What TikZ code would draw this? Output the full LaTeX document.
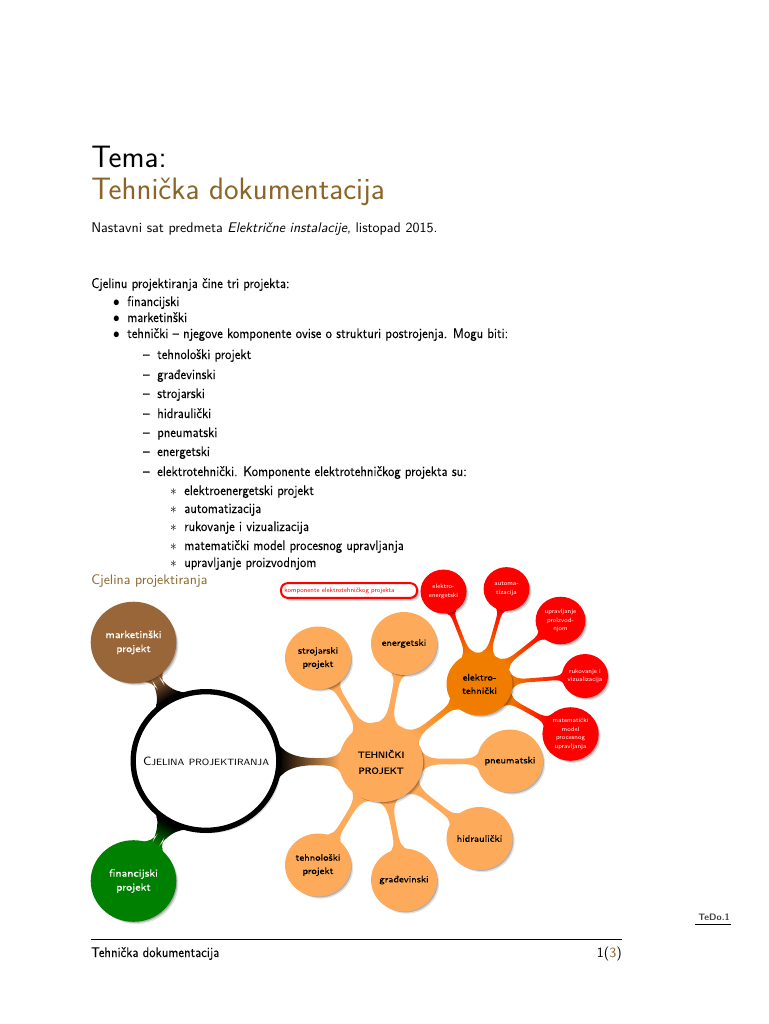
\documentclass[tikz,border=0pt]{standalone}
\usepackage{fontspec}
\usepackage{amssymb}
\usetikzlibrary{mindmap,shadows,backgrounds}
\newfontfamily\naslovni{lmsans17-regular}[Extension=.otf]
\newfontfamily\tijelo{Latin Modern Sans}[FakeBold=0.15]
\newfontfamily\gusta{Latin Modern Sans}[FakeBold=0.9]
\definecolor{smeda}{RGB}{139,100,40}
\definecolor{marketing}{RGB}{153,102,58}
\definecolor{financije}{RGB}{0,128,0}
\definecolor{narancasta}{RGB}{253,170,90}
\definecolor{tamnonar}{RGB}{240,125,0}
\definecolor{crvena}{RGB}{255,0,0}

\begin{document}
\begin{tikzpicture}[x=0.75pt,y=-0.75pt,
    tekst/.style={anchor=base west, inner sep=0pt, font=\sffamily\fontsize{9.5}{11}\selectfont},
    naslov/.style={anchor=base west, inner sep=0pt, font=\naslovni\fontsize{23.2}{28}\selectfont},
    uvuk/.style={anchor=base west, inner sep=0pt, font=\tijelo\fontsize{10.5}{12}\selectfont, xscale=.905, transform shape},
    sjena/.style={drop shadow={shadow xshift=2.2pt,shadow yshift=-2.2pt,opacity=.12,fill=black},
      drop shadow={shadow xshift=1.3pt,shadow yshift=-1.3pt,opacity=.22,fill=black}},
    pojam/.style={concept, sjena, align=center, inner sep=0pt},
    velik/.style={pojam, text=white, minimum size=60pt, text width=50pt, font=\tijelo\fontsize{8}{10.5}\selectfont},
    srednji/.style={pojam, concept color=narancasta, minimum size=46pt, text width=42pt, font=\tijelo\fontsize{7.2}{10}\selectfont},
    malen/.style={pojam, concept color=crvena, text=white, text width=30pt, font=\sffamily\fontsize{4.7}{6.4}\selectfont},
    veza/.style={line width=4.5pt},
    tanka/.style={line width=3pt}]
  \useasboundingbox (0,0) rectangle (768,1024);
  % Naslov
  \node[naslov] (tema) at (91,167) {Tema:};
  \node[naslov, text=smeda] (glavni) at (91,199) {Tehnička dokumentacija};
  \node[tekst, font=\sffamily\fontsize{10.5}{12}\selectfont] (sat) at (91,232) {Nastavni sat predmeta \textit{Električne instalacije}, listopad 2015.};
  % Popis
  \node[uvuk] (uvod) at (91,288) {Cjelinu projektiranja čine tri projekta:};
  \node[uvuk] (a1) at (113,306) {\makebox[11.6pt][l]{$\bullet$}financijski};
  \node[uvuk] (a2) at (113,322) {\makebox[11.6pt][l]{$\bullet$}marketinški};
  \node[uvuk] (a3) at (113,338) {\makebox[11.6pt][l]{$\bullet$}tehnički – njegove komponente ovise o strukturi postrojenja. Mogu biti:};
  \node[uvuk] (b1) at (143,359) {\makebox[11.6pt][l]{–}tehnološki projekt};
  \node[uvuk] (b2) at (143,379) {\makebox[11.6pt][l]{–}građevinski};
  \node[uvuk] (b3) at (143,398) {\makebox[11.6pt][l]{–}strojarski};
  \node[uvuk] (b4) at (143,418) {\makebox[11.6pt][l]{–}hidraulički};
  \node[uvuk] (b5) at (143,437) {\makebox[11.6pt][l]{–}pneumatski};
  \node[uvuk] (b6) at (143,456) {\makebox[11.6pt][l]{–}energetski};
  \node[uvuk] (b7) at (143,476) {\makebox[11.6pt][l]{–}elektrotehnički. Komponente elektrotehničkog projekta su:};
  \node[uvuk] (c1) at (170,495) {\makebox[11.6pt][l]{$\ast$}elektroenergetski projekt};
  \node[uvuk] (c2) at (170,513) {\makebox[11.6pt][l]{$\ast$}automatizacija};
  \node[uvuk] (c3) at (170,531) {\makebox[11.6pt][l]{$\ast$}rukovanje i vizualizacija};
  \node[uvuk] (c4) at (170,550) {\makebox[11.6pt][l]{$\ast$}matematički model procesnog upravljanja};
  \node[uvuk] (c5) at (170,567) {\makebox[11.6pt][l]{$\ast$}upravljanje proizvodnjom};
  \node[tekst, text=smeda, font=\sffamily\fontsize{10.4}{12}\selectfont] (cjelina) at (91,584) {Cjelina projektiranja};
  % Mentalna mapa
  \begin{scope}[mindmap, x=0.7143pt, xscale=1.05, transform shape]
    % Pojmovi
    \node[pojam, concept color=white, draw=black, line width=4pt, minimum size=104pt, text width=40pt, font=\sffamily] at (206,761) (cp)
      {\makebox[0pt]{{\fontsize{9}{12}\selectfont C}{\fontsize{6.8}{12}\selectfont JELINA PROJEKTIRANJA}}};
    \node[velik, concept color=marketing] at (133.5,642.5) (mp) {marketinški\\projekt};
    \node[velik, concept color=financije] at (133.5,881) (fp) {financijski\\projekt};
    \node[pojam, concept color=narancasta, minimum size=59pt, text width=50pt, font=\gusta\fontsize{6.8}{12}\selectfont] at (381,762) (tp) {TEHNIČKI\\PROJEKT};
    \node[srednji] at (318,658) (st) {strojarski\\projekt};
    \node[srednji] at (404,643.5) (en) {energetski};
    \node[srednji, concept color=tamnonar] at (479.5,684) (el) {elektro-\\tehnički};
    \node[srednji] at (510,761) (pn) {pneumatski};
    \node[srednji] at (479.5,838.5) (hi) {hidraulički};
    \node[srednji] at (404,880) (gr) {građevinski};
    \node[srednji] at (318,865) (te) {tehnološki\\projekt};
    \node[malen, minimum size=31pt] at (443.5,591.5) (ee) {elektro-\\energetski};
    \node[malen, minimum size=31pt] at (506.5,589) (au) {automa-\\tizacija};
    \node[malen, minimum size=34pt] at (560.5,620.5) (up) {upravljanje\\proizvod-\\njom};
    \node[malen, minimum size=31pt] at (585,676) (ru) {rukovanje i\\vizualizacija};
    \node[malen, minimum size=39pt] at (570.5,734) (ma) {matematički\\model\\procesnog\\upravljanja};
    % Veze
    \begin{pgfonlayer}{background}
      \path (cp) to[circle connection bar switch color=from (black) to (narancasta), veza] (tp);
      \path (cp) to[circle connection bar switch color=from (black) to (marketing), veza] (mp);
      \path (cp) to[circle connection bar switch color=from (black) to (financije), veza] (fp);
      \path (tp) to[circle connection bar switch color=from (narancasta) to (narancasta), veza] (st);
      \path (tp) to[circle connection bar switch color=from (narancasta) to (narancasta), veza] (en);
      \path (tp) to[circle connection bar switch color=from (narancasta) to (tamnonar), veza] (el);
      \path (tp) to[circle connection bar switch color=from (narancasta) to (narancasta), veza] (pn);
      \path (tp) to[circle connection bar switch color=from (narancasta) to (narancasta), veza] (hi);
      \path (tp) to[circle connection bar switch color=from (narancasta) to (narancasta), veza] (gr);
      \path (tp) to[circle connection bar switch color=from (narancasta) to (narancasta), veza] (te);
      \path (el) to[circle connection bar switch color=from (tamnonar) to (crvena), tanka] (ee);
      \path (el) to[circle connection bar switch color=from (tamnonar) to (crvena), tanka] (au);
      \path (el) to[circle connection bar switch color=from (tamnonar) to (crvena), tanka] (up);
      \path (el) to[circle connection bar switch color=from (tamnonar) to (crvena), tanka] (ru);
      \path (el) to[circle connection bar switch color=from (tamnonar) to (crvena), tanka] (ma);
    \end{pgfonlayer}
  \end{scope}
  \node[draw=crvena, line width=1.5pt, rounded corners=5pt, sjena, fill=white, text=crvena, anchor=west, text width=97pt, align=left, minimum height=11pt, inner xsep=2.5pt, inner ysep=1.5pt, font=\sffamily\fontsize{4.9}{6}\selectfont] (komp) at (280,590.5) {komponente elektrotehničkog projekta};
  % Podnozje
  \node[uvuk] (pn1) at (91,957) {Tehnička dokumentacija};
  \node[tekst, anchor=base east, font=\sffamily\fontsize{10.5}{12}\selectfont] (str) at (622,957) {1(\textcolor{smeda}{3})};
  \coordinate (r1) at (91,939.5);
  \coordinate (r2) at (622,939.5);
  \draw[line width=.75pt] (r1) -- (r2);
  \node[tekst, anchor=base east, font=\sffamily\bfseries\fontsize{7}{8}\selectfont, text=black!75] (oz) at (730,920) {TeDo.1};
  \coordinate (o1) at (695,924);
  \coordinate (o2) at (731,924);
  \draw[line width=.75pt] (o1) -- (o2);
\end{tikzpicture}
\end{document}
